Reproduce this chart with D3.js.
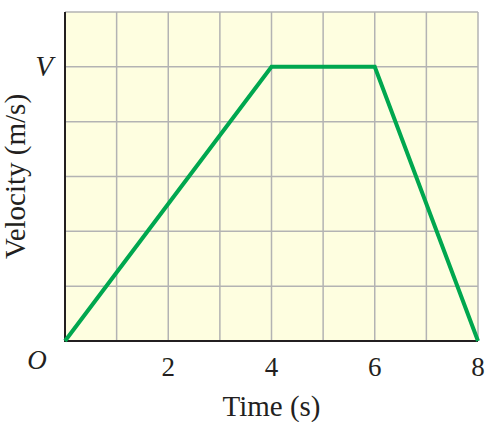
<!DOCTYPE html>
<html>
<head>
<meta charset="utf-8">
<script src="https://cdn.jsdelivr.net/npm/d3@7"></script>
<style>
  body { margin: 0; background: #fff; }
  text { font-family: "Liberation Serif", "DejaVu Serif", serif; fill: #231f20; }
</style>
</head>
<body>
<script>
// velocity-time graph, V reached at t=4, held until t=6
const times = [0, 4, 6, 8];
const velocities = [0, 5, 5, 0];   // in grid units, V = 5
const xTicks = [2, 4, 6, 8];
const xGrid = d3.range(0, 9);
const yGrid = d3.range(0, 7);

const width = 497, height = 422;
const margin = { left: 65, right: 19, top: 12, bottom: 81 };

const svg = d3.select("body").append("svg")
    .attr("width", width)
    .attr("height", height);

const x = d3.scaleLinear().domain([0, 8]).range([margin.left, width - margin.right]);
const y = d3.scaleLinear().domain([0, 6]).range([height - margin.bottom, margin.top]);

// plot background
svg.append("rect")
    .attr("x", x(0))
    .attr("y", y(6))
    .attr("width", x(8) - x(0))
    .attr("height", y(0) - y(6))
    .attr("fill", "#fefee0");

// grid
svg.append("g").selectAll("line")
    .data(xGrid)
    .enter().append("line")
    .attr("x1", d => x(d)).attr("x2", d => x(d))
    .attr("y1", y(0)).attr("y2", y(6))
    .attr("stroke", "#b3b3b3")
    .attr("stroke-width", 1.5);

svg.append("g").selectAll("line")
    .data(yGrid)
    .enter().append("line")
    .attr("x1", x(0)).attr("x2", x(8))
    .attr("y1", d => y(d)).attr("y2", d => y(d))
    .attr("stroke", "#b3b3b3")
    .attr("stroke-width", 1.5);

// axes (left and bottom)
svg.append("line")
    .attr("x1", x(0)).attr("x2", x(0))
    .attr("y1", y(0) + 1).attr("y2", y(6))
    .attr("stroke", "#231f20").attr("stroke-width", 2);
svg.append("line")
    .attr("x1", x(0) - 1).attr("x2", x(8))
    .attr("y1", y(0)).attr("y2", y(0))
    .attr("stroke", "#231f20").attr("stroke-width", 2);

// the curve
const line = d3.line()
    .x((d, i) => x(times[i]))
    .y(d => y(d));

svg.append("path")
    .datum(velocities)
    .attr("d", line)
    .attr("fill", "none")
    .attr("stroke", "#00a74f")
    .attr("stroke-width", 4)
    .attr("stroke-linejoin", "miter");

// tick labels
svg.append("g").selectAll("text")
    .data(xTicks)
    .enter().append("text")
    .attr("x", d => x(d))
    .attr("y", y(0) + 35)
    .attr("text-anchor", "middle")
    .attr("font-size", 27)
    .text(d => d);

svg.append("text")
    .attr("x", 37)
    .attr("y", y(0) + 28)
    .attr("text-anchor", "middle")
    .attr("font-size", 27)
    .attr("font-style", "italic")
    .text("O");

svg.append("text")
    .attr("x", 44)
    .attr("y", y(5) + 9)
    .attr("text-anchor", "middle")
    .attr("font-size", 29)
    .attr("font-style", "italic")
    .text("V");

// axis titles
svg.append("text")
    .attr("x", x(4))
    .attr("y", 416)
    .attr("text-anchor", "middle")
    .attr("font-size", 29)
    .text("Time (s)");

svg.append("text")
    .attr("transform", `translate(25,${(y(0) + y(6)) / 2}) rotate(-90)`)
    .attr("text-anchor", "middle")
    .attr("font-size", 29)
    .text("Velocity (m/s)");
</script>
</body>
</html>
